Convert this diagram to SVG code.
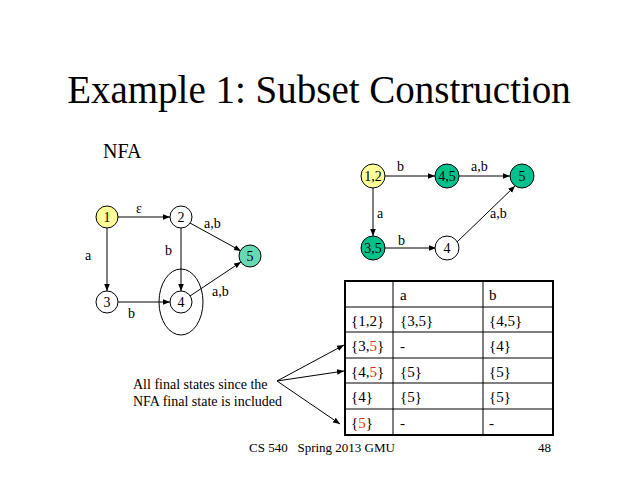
<svg xmlns="http://www.w3.org/2000/svg" width="638" height="478" viewBox="0 0 638 478" font-family="'Liberation Serif','DejaVu Serif',Times,serif">
<defs>
<marker id="ah" viewBox="0 0 10 10" refX="10" refY="5" markerWidth="7" markerHeight="7" orient="auto" markerUnits="userSpaceOnUse"><path d="M0,1 L10,5 L0,9 z" fill="#000"/></marker>
</defs>
<style>
text{font-family:'Liberation Serif','DejaVu Serif',Times,serif;fill:#000}
.n{font-size:14px;text-anchor:middle}
.l{font-size:14px}
.t{font-size:15px}
circle{stroke:#000;stroke-width:1}
.c line{stroke:#000;stroke-width:1;fill:none;marker-end:url(#ah)}
</style>
<rect width="638" height="478" fill="#fff"/>
<text x="319" y="103" font-size="39" text-anchor="middle">Example 1: Subset Construction</text>
<text x="103" y="158" font-size="20">NFA</text>
<g class="c">
<line x1="118" y1="217" x2="170" y2="217"/>
<line x1="107" y1="228" x2="107" y2="291"/>
<line x1="118" y1="302" x2="170" y2="302"/>
<line x1="181" y1="228" x2="181" y2="291"/>
<line x1="190" y1="223" x2="241" y2="251"/>
<line x1="190" y1="296" x2="241" y2="262"/>
<line x1="385" y1="176" x2="435" y2="176"/>
<line x1="459" y1="176" x2="510" y2="176"/>
<line x1="373" y1="188" x2="373" y2="236"/>
<line x1="385" y1="248" x2="436" y2="248"/>
<line x1="457" y1="242" x2="515" y2="186"/>
<line x1="277" y1="381" x2="344" y2="345"/>
<line x1="277" y1="381" x2="344" y2="371"/>
<line x1="277" y1="381" x2="340" y2="424"/>
</g>
<ellipse cx="181" cy="302" rx="22" ry="33" fill="none" stroke="#000"/>
<g id="n1"><circle cx="107" cy="217" r="11" fill="#ffff99"/><text class="n" x="107" y="222">1</text></g>
<g id="n2"><circle cx="181" cy="217" r="11" fill="#fff"/><text class="n" x="181" y="222">2</text></g>
<g id="n5"><circle cx="250" cy="256" r="11" fill="#66d9b3"/><text class="n" x="250" y="261">5</text></g>
<g id="n3"><circle cx="107" cy="302" r="11" fill="#fff"/><text class="n" x="107" y="307">3</text></g>
<g id="n4"><circle cx="181" cy="302" r="11" fill="#fff"/><text class="n" x="181" y="307">4</text></g>
<text class="l" x="136" y="213">ε</text>
<text class="l" x="85" y="260">a</text>
<text class="l" x="165" y="255">b</text>
<text class="l" x="204" y="228">a,b</text>
<text class="l" x="212" y="296">a,b</text>
<text class="l" x="128" y="318">b</text>
<g id="d12"><circle cx="373" cy="176" r="12" fill="#ffff99"/><text class="n" x="373" y="181">1,2</text></g>
<g id="d45"><circle cx="447" cy="176" r="12" fill="#00c08b"/><text class="n" x="447" y="181">4,5</text></g>
<g id="d5"><circle cx="522" cy="176" r="12" fill="#00c08b"/><text class="n" x="522" y="181">5</text></g>
<g id="d35"><circle cx="373" cy="248" r="12" fill="#00c08b"/><text class="n" x="373" y="253">3,5</text></g>
<g id="d4"><circle cx="447" cy="248" r="12" fill="#fff"/><text class="n" x="447" y="253">4</text></g>
<text class="l" x="397" y="171">b</text>
<text class="l" x="471" y="171">a,b</text>
<text class="l" x="377" y="218">a</text>
<text class="l" x="398" y="245">b</text>
<text class="l" x="490" y="218">a,b</text>
<g id="table" fill="none" stroke="#000">
<rect x="345" y="281" width="208" height="154" stroke-width="2"/>
<line x1="345" y1="307" x2="553" y2="307"/>
<line x1="345" y1="332" x2="553" y2="332"/>
<line x1="345" y1="358" x2="553" y2="358"/>
<line x1="345" y1="383" x2="553" y2="383"/>
<line x1="345" y1="409" x2="553" y2="409"/>
<line x1="393" y1="281" x2="393" y2="435"/>
<line x1="483" y1="281" x2="483" y2="435"/>
</g>
<g class="t">
<text class="t" x="400" y="300">a</text><text class="t" x="489" y="300">b</text>
<text class="t" x="351" y="326">{1,2}</text><text class="t" x="400" y="326">{3,5}</text><text class="t" x="489" y="326">{4,5}</text>
<text class="t" x="351" y="351">{3,<tspan fill="#e03010">5</tspan>}</text><text class="t" x="400" y="351">-</text><text class="t" x="489" y="351">{4}</text>
<text class="t" x="351" y="377">{4,<tspan fill="#e03010">5</tspan>}</text><text class="t" x="400" y="377">{5}</text><text class="t" x="489" y="377">{5}</text>
<text class="t" x="351" y="402">{4}</text><text class="t" x="400" y="402">{5}</text><text class="t" x="489" y="402">{5}</text>
<text class="t" x="351" y="428">{<tspan fill="#e03010">5</tspan>}</text><text class="t" x="400" y="428">-</text><text class="t" x="489" y="428">-</text>
</g>
<text x="133" y="389" font-size="14">All final states since the</text>
<text x="133" y="406" font-size="14">NFA final state is included</text>
<text x="249" y="452" font-size="13" xml:space="preserve">CS 540   Spring 2013 GMU</text>
<text x="538" y="452" font-size="13">48</text>
</svg>
